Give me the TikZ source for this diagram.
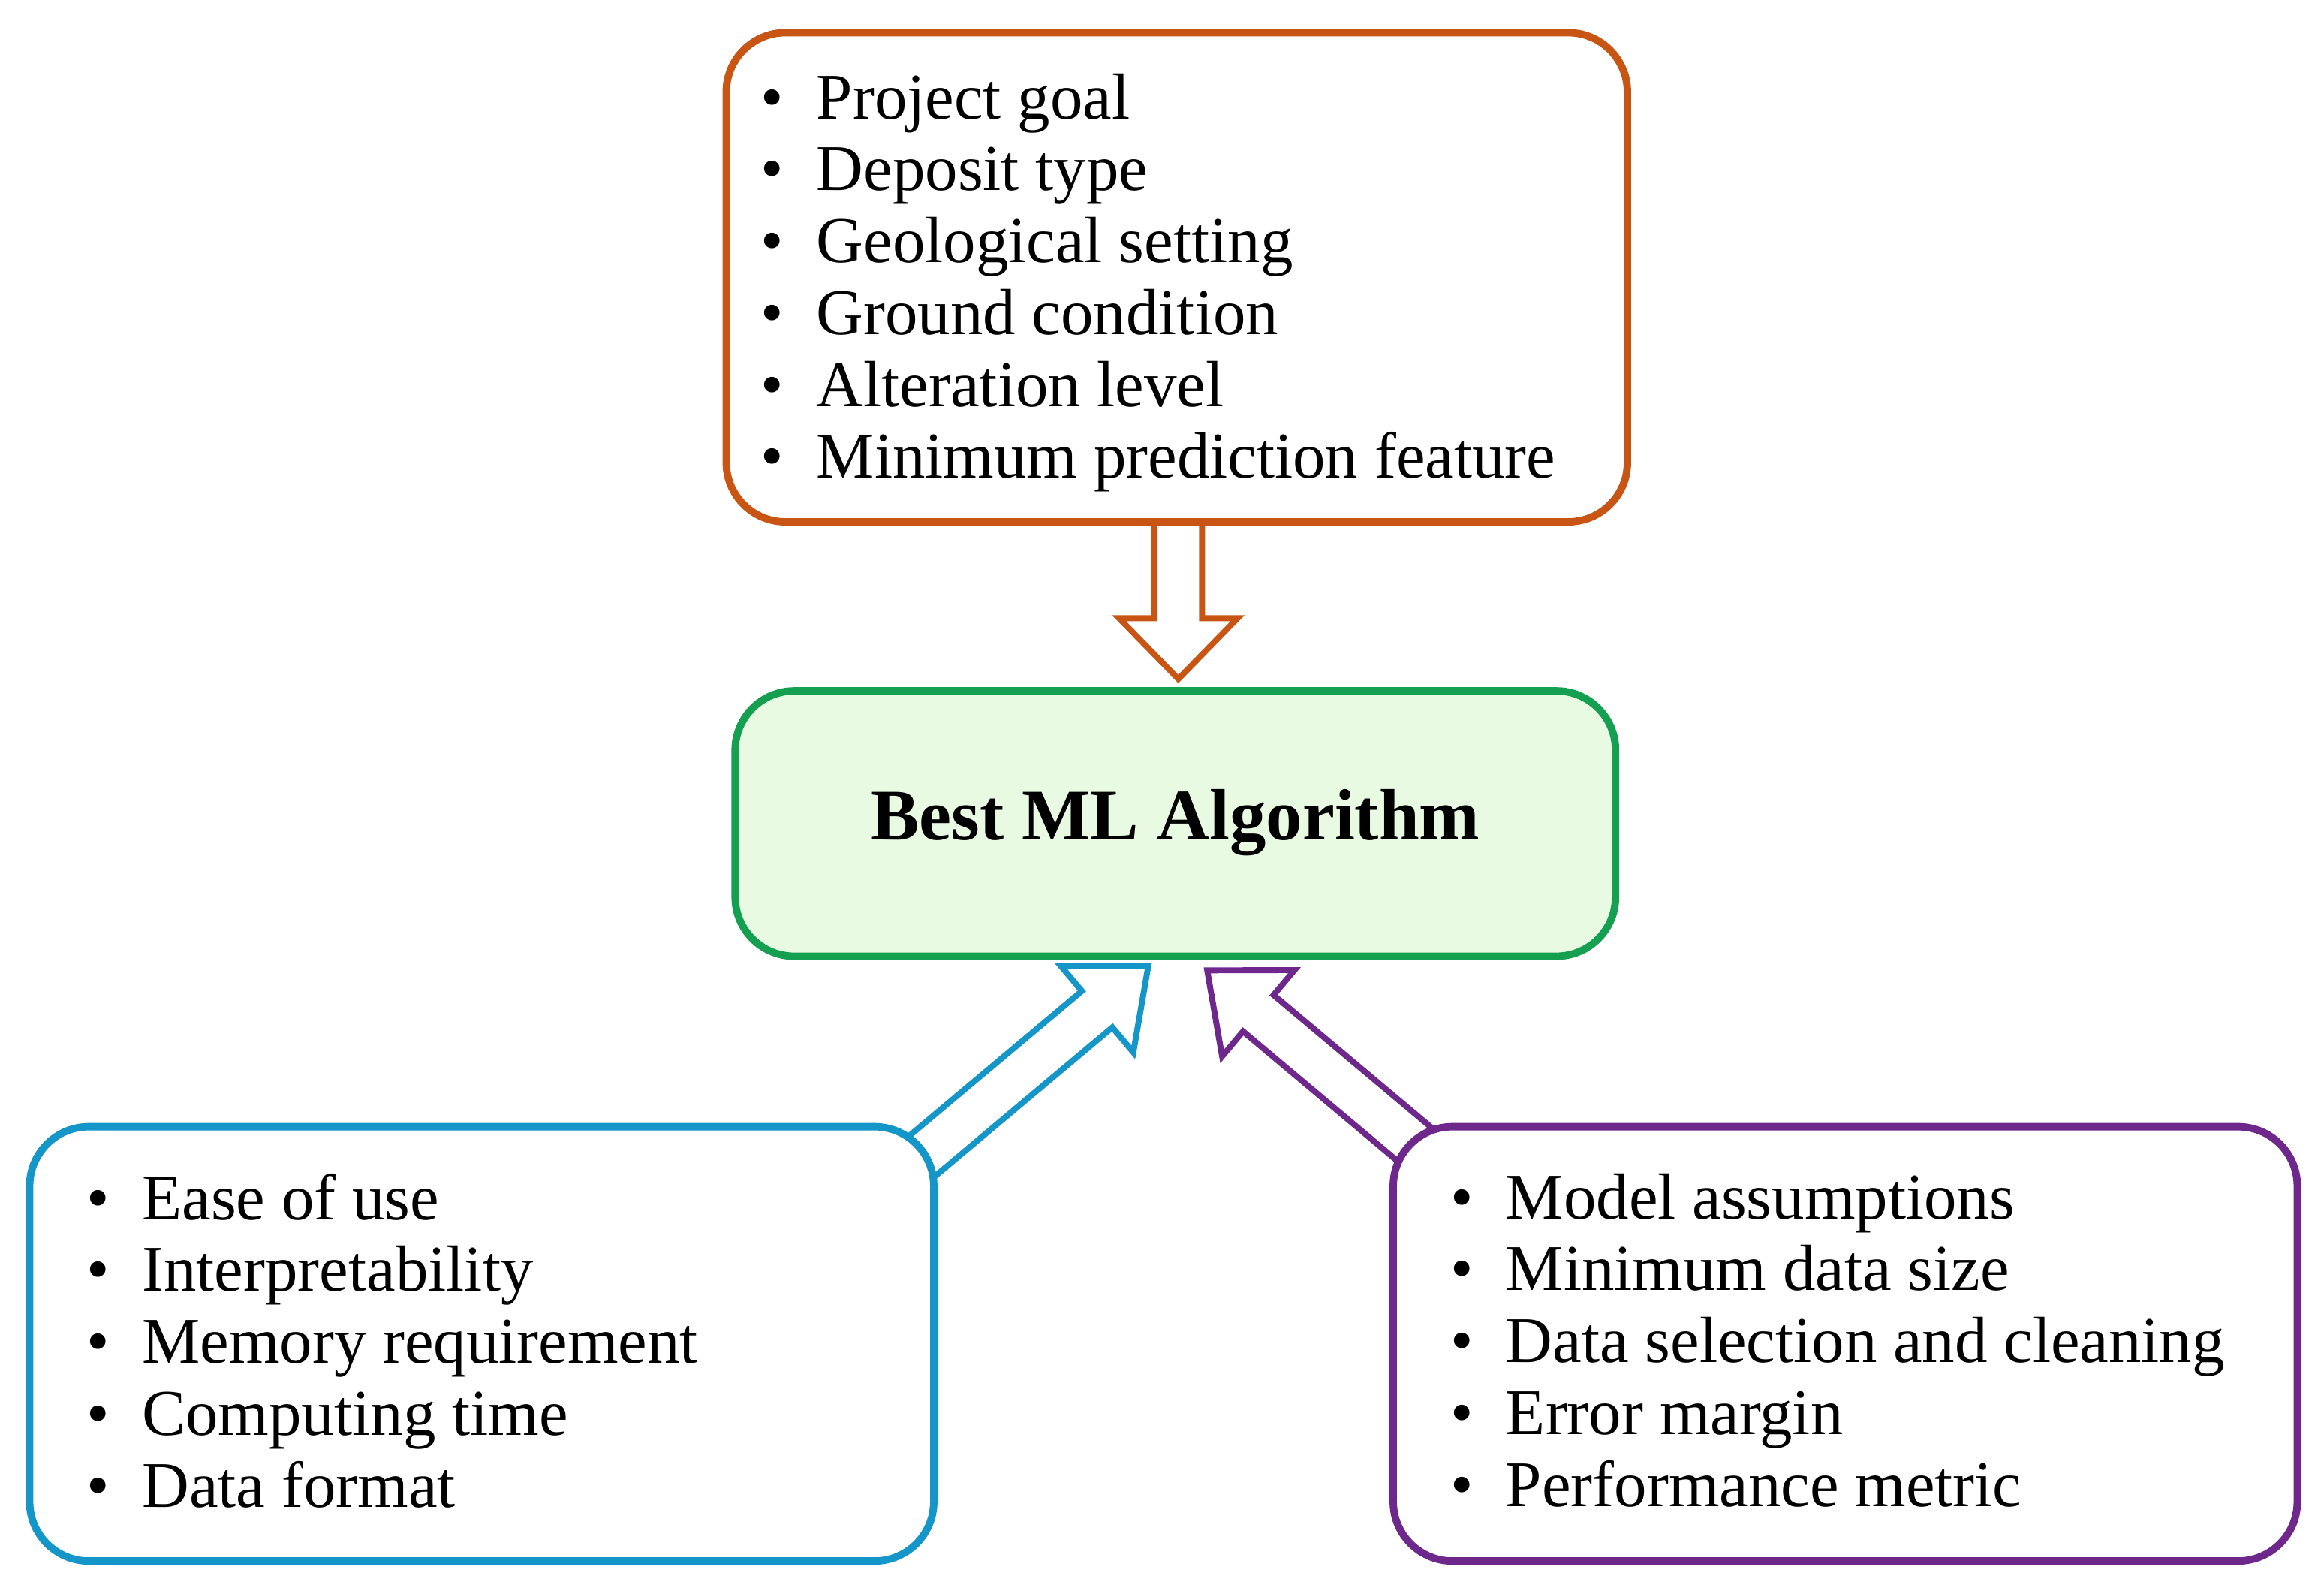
\documentclass[tikz,border=0pt]{standalone}
\usepackage{fontspec}
\setmainfont{Liberation Serif}
\usetikzlibrary{positioning}
\definecolor{orangeC}{RGB}{200,85,20}
\definecolor{greenC}{RGB}{20,160,80}
\definecolor{greenF}{RGB}{232,250,226}
\definecolor{blueC}{RGB}{20,150,200}
\definecolor{purpleC}{RGB}{110,40,140}
\tikzset{
  listbox/.style={draw, line width=5pt, rounded corners=40pt, fill=white, inner sep=0pt},
  listtext/.style={font=\fontsize{44}{48.5}\selectfont, align=left, anchor=north west},
  bigarrow/.style={draw, line width=4pt, fill=white, line join=miter}
}
\begin{document}
\begin{tikzpicture}[x=1pt,y=1pt]
\useasboundingbox (0,0) rectangle (1568,-1073);
% arrows first
\begin{scope}[shift={(795,-345)},rotate=-90]
\draw[bigarrow, draw=orangeC] (0,16) -- (72,16) -- (72,40) -- (113,0) -- (72,-40) -- (72,-16) -- (0,-16) -- cycle;
\end{scope}
\begin{scope}[shift={(610,-790)},rotate=40]
\draw[bigarrow, draw=blueC] (0,16) -- (170,16) -- (170,38) -- (215,0) -- (170,-38) -- (170,-16) -- (0,-16) -- cycle;
\end{scope}
\begin{scope}[shift={(970,-785)},rotate=140]
\draw[bigarrow, draw=purpleC] (0,16) -- (158,16) -- (158,38) -- (203,0) -- (158,-38) -- (158,-16) -- (0,-16) -- cycle;
\end{scope}
% boxes
\draw[listbox, draw=orangeC] (490,-22) rectangle (1098,-352);
\node[listtext] (t) at (510,-46) {• \ Project goal\\• \ Deposit type\\• \ Geological setting\\• \ Ground condition\\• \ Alteration level\\• \ Minimum prediction feature};
\draw[listbox, draw=greenC, fill=greenF] (496,-466) rectangle (1090,-645);
\node[font=\fontsize{49}{56}\selectfont\bfseries] (c) at (793,-555) {Best ML Algorithm};
\draw[listbox, draw=blueC] (20,-760) rectangle (630,-1053);
\node[listtext] (l) at (55,-788) {• \ Ease of use\\• \ Interpretability\\• \ Memory requirement\\• \ Computing time\\• \ Data format};
\draw[listbox, draw=purpleC] (940,-760) rectangle (1550,-1053);
\node[listtext] (r) at (975,-788) {• \ Model assumptions\\• \ Minimum data size\\• \ Data selection and cleaning\\• \ Error margin\\• \ Performance metric};
\end{tikzpicture}
\end{document}
